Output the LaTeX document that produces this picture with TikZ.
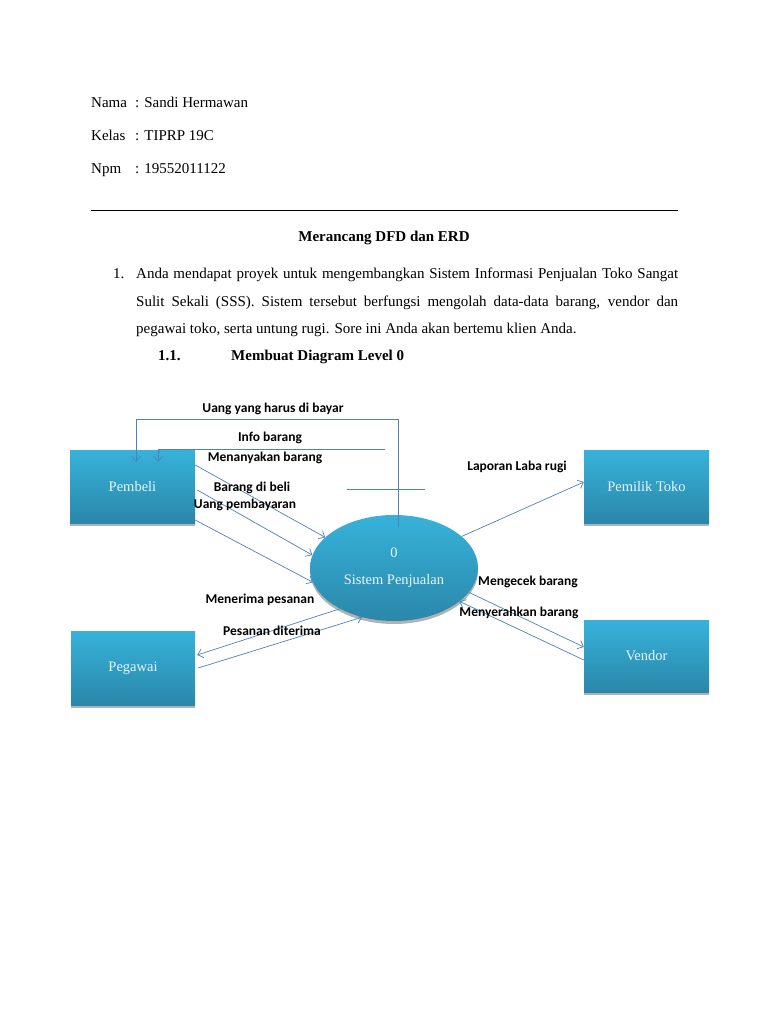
\documentclass[tikz,border=0pt]{standalone}
\usepackage{fontspec}
\setmainfont{Liberation Serif}
\newfontfamily\lblfont{Carlito}
\usetikzlibrary{shapes.geometric,arrows.meta,calc,shadows}
\definecolor{flow}{HTML}{4F81BD}
\definecolor{boxtop}{HTML}{37B2DA}
\definecolor{boxbot}{HTML}{2A87AA}
\definecolor{boxtext}{HTML}{EAF6FB}
\begin{document}
\begin{tikzpicture}[x=1pt,y=-1pt,
  entity/.style={rectangle, minimum width=125pt, minimum height=73pt, inner sep=0pt,
    top color=boxtop, bottom color=boxbot, text=boxtext,
    font=\fontsize{14.5}{17}\selectfont,
    drop shadow={shadow xshift=0pt, shadow yshift=-3pt, opacity=0.3, fill=black}},
  proc/.style={ellipse, minimum width=168pt, minimum height=106pt, inner sep=0pt,
    top color=boxtop, bottom color=boxbot, text=boxtext, align=center,
    font=\fontsize{14.5}{17}\selectfont,
    drop shadow={shadow xshift=0pt, shadow yshift=-3pt, opacity=0.3, fill=black}},
  flowline/.style={draw=flow, line width=0.7pt},
  flowarrow/.style={flowline, -{Straight Barb[length=5pt,width=9pt]}},
  lab/.style={font=\lblfont\bfseries\fontsize{13.5}{16}\selectfont, inner sep=0pt},
  doc/.style={font=\fontsize{15}{18}\selectfont, inner sep=0pt, anchor=base west},
  docb/.style={doc, font=\bfseries\fontsize{15}{18}\selectfont}]

\useasboundingbox (0,0) rectangle (768,1024);
\fill[white] (0,0) rectangle (768,1024);

% header
\node[doc] (nama) at (91,108) {Nama};
\node[doc] (namav) at (135,108) {: Sandi Hermawan};
\node[doc] (kelas) at (91,141) {Kelas};
\node[doc] (kelasv) at (135,141) {: TIPRP 19C};
\node[doc] (npm) at (91,174) {Npm};
\node[doc] (npmv) at (135,174) {: 19552011122};
\coordinate (ruleL) at (91,210);
\coordinate (ruleR) at (678,210);
\draw[line width=0.8pt] (ruleL) -- (ruleR);

\node[docb, anchor=base] (title) at (384,241) {Merancang DFD dan ERD};
\node[doc] (num) at (113,278) {1.};
\node[doc] (p1) at (136,278) {\makebox[542pt][s]{Anda mendapat proyek untuk mengembangkan Sistem Informasi Penjualan Toko Sangat}};
\node[doc] (p2) at (136,306) {\makebox[542pt][s]{Sulit Sekali (SSS). Sistem tersebut berfungsi mengolah data-data barang, vendor dan}};
\node[doc] (p3) at (136,333) {pegawai toko, serta untung rugi. Sore ini Anda akan bertemu klien Anda.};
\node[docb] (sub) at (158,360) {1.1.};
\node[docb] (subt) at (231,360) {Membuat Diagram Level 0};

% entities and process
\node[entity] (pembeli) at (132.5,486.5) {Pembeli};
\node[entity] (pemilik) at (646.5,486.5) {Pemilik Toko};
\node[entity, minimum width=124pt, minimum height=74pt] (pegawai) at (133,668) {Pegawai};
\node[entity, minimum height=72pt] (vendor) at (646.5,656) {Vendor};
\node[proc] (sys) at (394,568) {0\\[10pt]Sistem Penjualan};

% flows with Pembeli
\draw[flowarrow] ([xshift=4pt,yshift=-12pt]sys.north) -- ++(0,-107) -| ([xshift=3.5pt,yshift=-12pt]pembeli.north);
\coordinate (infoStart) at (385,449);
\draw[flowarrow] (infoStart) -| ([xshift=25.5pt,yshift=-12pt]pembeli.north);
\coordinate (strayL) at (347,489);
\coordinate (strayR) at (425,489);
\draw[flowline] (strayL) -- (strayR);
\draw[flowarrow] ([yshift=21.5pt]pembeli.east) -- (sys.156);
\draw[flowarrow] ([xshift=2pt,yshift=-3.5pt]pembeli.east) -- (sys.171);
\draw[flowarrow] ([yshift=-33.5pt]pembeli.east) -- (sys.190);

% flows with Pemilik Toko and Vendor
\draw[flowarrow] (sys.25) -- ([yshift=4.5pt]pemilik.west);
\draw[flowarrow] (sys.-18) -- ([yshift=9pt]vendor.west);
\draw[flowarrow] ([yshift=-4pt]vendor.west) -- (sys.-27);

% flows with Pegawai
\draw[flowarrow] (sys.217) -- ([xshift=2pt,yshift=13pt]pegawai.east);
\draw[flowarrow] ([xshift=3pt]pegawai.east) -- (sys.237);

% labels
\node[lab] (l1) at (273,409) {Uang yang harus di bayar};
\node[lab] (l2) at (270,438) {Info barang};
\node[lab] (l3) at (265,458) {Menanyakan barang};
\node[lab] (l4) at (252,488) {Barang di beli};
\node[lab] (l5) at (245,505) {Uang pembayaran};
\node[lab] (l6) at (517,467) {Laporan Laba rugi};
\node[lab] (l7) at (528,582) {Mengecek barang};
\node[lab] (l8) at (519,613) {Menyerahkan barang};
\node[lab] (l9) at (260,600) {Menerima pesanan};
\node[lab] (l10) at (272,631) {Pesanan diterima};
\end{tikzpicture}
\end{document}
